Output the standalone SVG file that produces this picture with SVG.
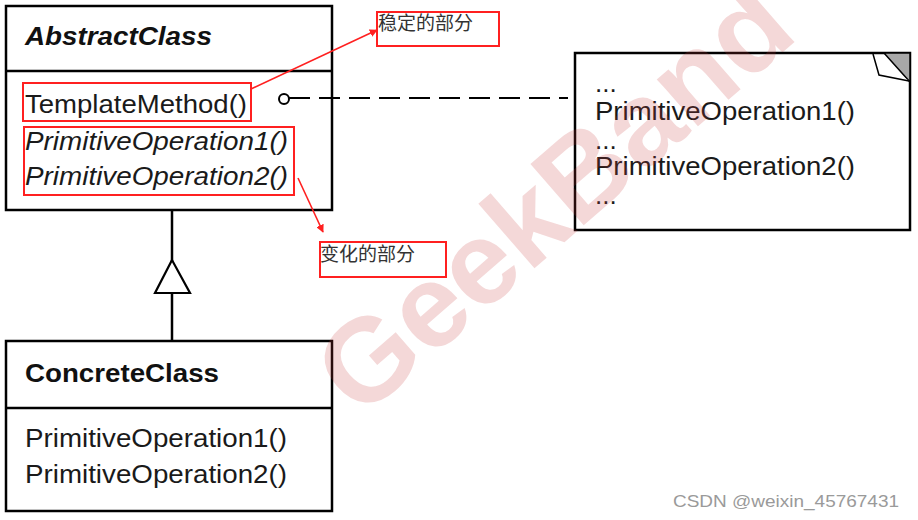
<svg xmlns="http://www.w3.org/2000/svg" width="918" height="520" viewBox="0 0 918 520">
  <defs>
    <style>
      .box { fill: #ffffff; stroke: #000000; stroke-width: 2.5; }
      .div { stroke: #000000; stroke-width: 2.5; }
      .t { font-family: "Liberation Sans", Arial, Helvetica, sans-serif; font-size: 26px; fill: #1a1a1a; }
      .title { font-family: "Liberation Sans", Arial, Helvetica, sans-serif; font-size: 25px; font-weight: bold; fill: #111111; }
      .it { font-style: italic; }
      .hl { fill: none; stroke: #ff2020; stroke-width: 2; }
      .cjk { font-family: "Liberation Serif", "Noto Sans CJK SC", serif; font-size: 19px; fill: #333333; }
      .red { stroke: #ff2020; stroke-width: 1.6; fill: none; }
    </style>
    <marker id="redArrow" viewBox="0 0 10 10" refX="9" refY="5" markerWidth="8" markerHeight="8" markerUnits="userSpaceOnUse" orient="auto">
      <path d="M0,0 L10,5 L0,10 Z" fill="#ff2020"/>
    </marker>
  </defs>
  <rect x="0" y="0" width="918" height="520" fill="#ffffff"/>

  <g id="abstract-class">
    <rect class="box" x="6" y="6" width="326" height="204"/>
    <line class="div" x1="6" y1="71" x2="332" y2="71"/>
    <text class="title it" x="25" y="45" textLength="187" lengthAdjust="spacingAndGlyphs">AbstractClass</text>
    <text class="t" x="25" y="113" textLength="222" lengthAdjust="spacingAndGlyphs">TemplateMethod()</text>
    <text class="t it" x="25" y="150" textLength="263" lengthAdjust="spacingAndGlyphs">PrimitiveOperation1()</text>
    <text class="t it" x="25" y="185" textLength="263" lengthAdjust="spacingAndGlyphs">PrimitiveOperation2()</text>
    <rect class="hl" x="23" y="83" width="228" height="38"/>
    <rect class="hl" x="24" y="127" width="270" height="68"/>
  </g>

  <g id="concrete-class">
    <rect class="box" x="6" y="341" width="326" height="170"/>
    <line class="div" x1="6" y1="408" x2="332" y2="408"/>
    <text class="title" x="25" y="382" textLength="194" lengthAdjust="spacingAndGlyphs">ConcreteClass</text>
    <text class="t" x="25" y="447" textLength="262" lengthAdjust="spacingAndGlyphs">PrimitiveOperation1()</text>
    <text class="t" x="25" y="483" textLength="262" lengthAdjust="spacingAndGlyphs">PrimitiveOperation2()</text>
  </g>

  <g id="note">
    <rect class="box" x="575" y="53" width="335" height="177"/>
    <polygon points="884,53 910,53 910,82" fill="#a8a8a8" stroke="#000" stroke-width="1.5"/>
    <polyline points="873,54 879,75 909,81" fill="#ffffff" stroke="#000" stroke-width="1.5"/>
    <text class="t" x="595" y="92">...</text>
    <text class="t" x="595" y="120" textLength="260" lengthAdjust="spacingAndGlyphs">PrimitiveOperation1()</text>
    <text class="t" x="595" y="149">...</text>
    <text class="t" x="595" y="175" textLength="260" lengthAdjust="spacingAndGlyphs">PrimitiveOperation2()</text>
    <text class="t" x="595" y="204">...</text>
  </g>

  <g id="label-stable">
    <rect class="hl" x="377" y="12" width="122" height="34"/>
    <text class="cjk" x="378" y="30">稳定的部分</text>
  </g>

  <g id="label-variable">
    <rect class="hl" x="320" y="242" width="126" height="35"/>
    <text class="cjk" x="320" y="261">变化的部分</text>
  </g>

  <g id="connectors">
    <circle cx="284" cy="99" r="5" fill="#ffffff" stroke="#000" stroke-width="2"/>
    <line x1="289" y1="98" x2="568" y2="98" stroke="#000" stroke-width="2.2" stroke-dasharray="21 9"/>
    <line x1="172" y1="210" x2="172" y2="261" stroke="#000" stroke-width="2.5"/>
    <polygon points="172,260 155,293 190,293" fill="#ffffff" stroke="#000" stroke-width="2.2"/>
    <line x1="172" y1="293" x2="172" y2="341" stroke="#000" stroke-width="2.5"/>
    <line class="red" x1="251" y1="89" x2="377" y2="30" marker-end="url(#redArrow)"/>
    <line class="red" x1="298" y1="178" x2="323" y2="232" marker-end="url(#redArrow)"/>
  </g>

  <g id="watermark">
    <text x="360" y="420" transform="rotate(-41 360 420)" font-family="'Liberation Sans', Arial, sans-serif" font-size="118" font-weight="bold" fill="#c83c3c" fill-opacity="0.2">GeekBand</text>
  </g>

  <text x="673" y="507" font-family="'Liberation Sans', Arial, sans-serif" font-size="17" fill="#9a9a9a" textLength="226" lengthAdjust="spacingAndGlyphs">CSDN @weixin_45767431</text>
</svg>
